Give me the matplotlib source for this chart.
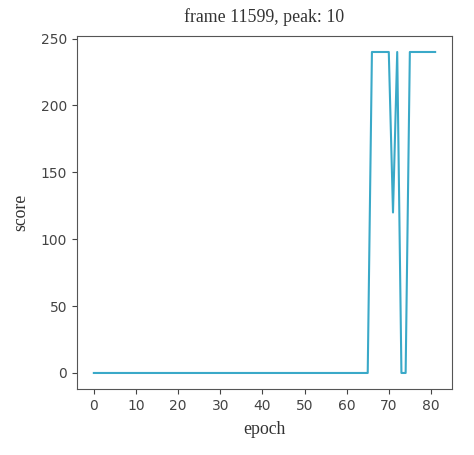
import numpy as np
import matplotlib
matplotlib.use("Agg")
import matplotlib.pyplot as plt

epochs = list(range(82))
scores = [0] * 66 + [240, 240, 240, 240, 240, 120, 240, 0, 0] + [240] * 7

plt.figure(figsize=(4.74, 4.55), dpi=100)
ax = plt.gca()
ax.plot(epochs, scores, color="#3aa9c8", lw=1.5)
ax.set_title("frame 11599, peak: 10", family="Liberation Serif", fontsize=12.8,
             color="#333333", pad=10)
ax.set_xlabel("epoch", family="Liberation Serif", fontsize=12.8, color="#333333", labelpad=6)
ax.set_ylabel("score", family="Liberation Serif", fontsize=12.8, color="#333333", labelpad=8)
ax.set_xticks(np.arange(0, 81, 10))
ax.set_yticks(np.arange(0, 251, 50))
ax.tick_params(labelsize=10, colors="#444444")
for s in ax.spines.values():
    s.set_color("#555555")
plt.subplots_adjust(left=0.162, right=0.954, top=0.921, bottom=0.145)
plt.savefig("out.png", dpi=100)
